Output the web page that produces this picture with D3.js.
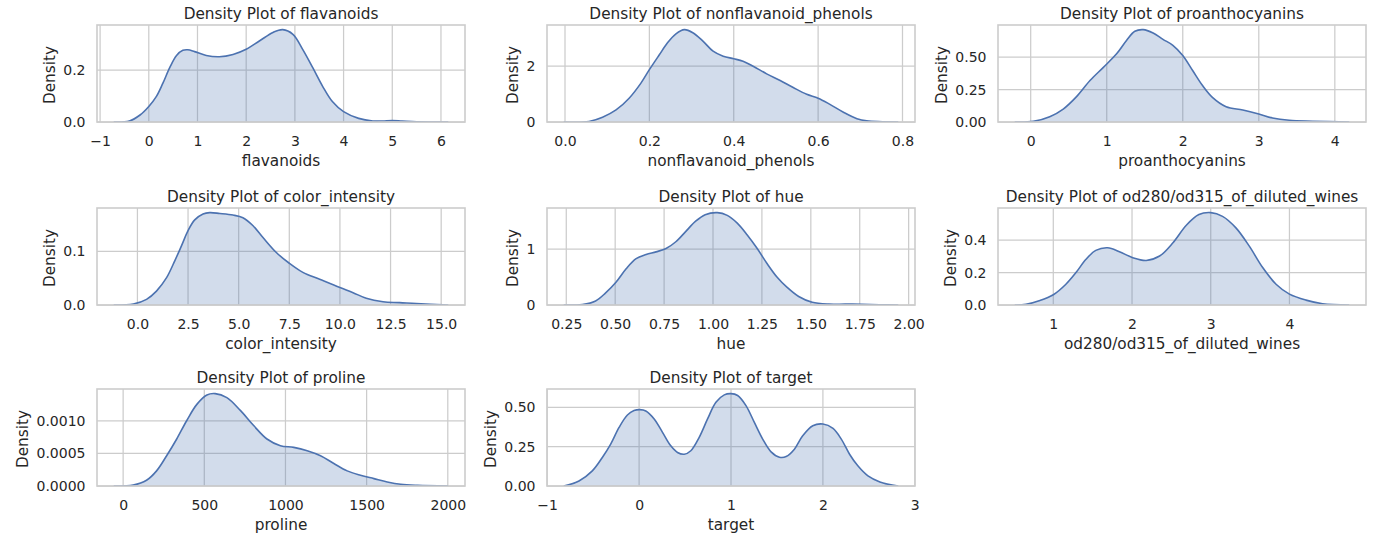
<!doctype html>
<html>
<head>
<meta charset="utf-8"/>
<title>Density plots</title>
<script src="https://d3js.org/d3.v7.min.js"></script>
<style>
body { margin: 0; background: #fff; }
text { font-family: "DejaVu Sans", sans-serif; fill: #262626; }
</style>
</head>
<body>
<script>
// density curves, [value, density]
var flavanoids = [[-0.72,0],[-0.4,0.004],[-0.18,0.027],[0,0.06],[0.16,0.10],[0.29,0.15],[0.43,0.21],
  [0.57,0.257],[0.70,0.277],[0.80,0.279],[0.94,0.272],[1.18,0.257],[1.45,0.252],[1.73,0.261],[2.0,0.281],
  [2.27,0.313],[2.55,0.346],[2.75,0.357],[2.96,0.339],[3.16,0.281],[3.37,0.209],[3.57,0.138],[3.77,0.079],
  [4.0,0.04],[4.31,0.014],[4.6,0.004],[4.8,0.004],[5.0,0.006],[5.2,0.004],[5.5,0.001],[6.15,0]];
var nonflavanoid = [[-0.003,0],[0.057,0.02],[0.089,0.17],[0.121,0.43],[0.152,0.85],[0.18,1.39],[0.2,1.87],
  [0.224,2.41],[0.243,2.83],[0.263,3.15],[0.283,3.30],[0.303,3.19],[0.327,2.89],[0.351,2.53],[0.375,2.35],
  [0.4,2.26],[0.422,2.17],[0.446,1.99],[0.478,1.72],[0.51,1.48],[0.541,1.23],[0.573,0.99],[0.6,0.85],
  [0.628,0.63],[0.66,0.35],[0.692,0.12],[0.715,0.04],[0.79,0]];
var proanthocyanins = [[-0.21,0],[0.035,0.005],[0.25,0.041],[0.428,0.10],[0.603,0.196],[0.78,0.32],
  [0.956,0.422],[1.13,0.526],[1.26,0.629],[1.37,0.70],[1.48,0.713],[1.61,0.687],[1.74,0.638],[1.87,0.592],
  [2.0,0.513],[2.13,0.397],[2.26,0.281],[2.39,0.19],[2.57,0.118],[2.79,0.093],[3.0,0.062],[3.18,0.031],
  [3.40,0.013],[3.71,0.006],[4.19,0]];
var colorIntensity = [[-1.17,0],[-0.2,0.002],[0.45,0.0106],[0.94,0.026],[1.44,0.051],[1.85,0.083],[2.18,0.111],
  [2.5,0.139],[2.83,0.159],[3.24,0.170],[3.57,0.1726],[4.07,0.171],[4.72,0.168],[5.21,0.163],[5.71,0.148],
  [6.2,0.126],[6.86,0.098],[7.5,0.078],[8.17,0.061],[9.0,0.048],[10.0,0.0325],[10.65,0.023],[11.3,0.0125],
  [12.13,0.006],[12.95,0.0044],[13.77,0.0025],[15.35,0]];
var hue = [[0.237,0],[0.332,0.01],[0.40,0.073],[0.45,0.212],[0.504,0.406],[0.556,0.648],[0.607,0.83],
  [0.658,0.903],[0.709,0.952],[0.76,1.012],[0.81,1.133],[0.86,1.315],[0.91,1.497],[0.96,1.618],[1.022,1.655],
  [1.073,1.606],[1.124,1.467],[1.175,1.255],[1.226,1.012],[1.277,0.739],[1.328,0.497],[1.379,0.315],
  [1.438,0.152],[1.507,0.048],[1.592,0.015],[1.677,0.016],[1.76,0.013],[1.85,0.005],[1.947,0]];
var od280 = [[0.51,0],[0.653,0.004],[0.82,0.026],[1.0,0.063],[1.16,0.128],[1.288,0.2],[1.415,0.282],
  [1.54,0.337],[1.69,0.353],[1.84,0.329],[2.01,0.292],[2.18,0.275],[2.35,0.302],[2.52,0.384],[2.69,0.492],
  [2.85,0.558],[3.0,0.57],[3.15,0.547],[3.32,0.476],[3.49,0.363],[3.66,0.231],[3.83,0.128],[4.0,0.067],
  [4.21,0.03],[4.42,0.008],[4.76,0]];
var proline = [[-58,0],[62,0.000015],[144,0.0000876],[206,0.000232],[268,0.000464],[330,0.000721],
  [392,0.001005],[454,0.001252],[516,0.001396],[567,0.001417],[639,0.001355],[722,0.00116],[804,0.000927],
  [886,0.000721],[969,0.000618],[1051,0.000592],[1134,0.000541],[1216,0.000464],[1298,0.000345],
  [1380,0.000232],[1462,0.000165],[1545,0.000113],[1627,0.000062],[1710,0.000026],[1813,0.00001],[2003,0]];
var target = [[-0.82,0],[-0.654,0.032],[-0.509,0.096],[-0.40,0.181],[-0.309,0.266],[-0.218,0.372],
  [-0.127,0.451],[-0.055,0.479],[0.007,0.485],[0.073,0.477],[0.164,0.426],[0.255,0.341],[0.345,0.255],
  [0.418,0.213],[0.491,0.202],[0.563,0.224],[0.654,0.309],[0.745,0.426],[0.836,0.532],[0.927,0.579],
  [1.0,0.587],[1.072,0.575],[1.163,0.511],[1.254,0.404],[1.345,0.298],[1.436,0.217],[1.527,0.183],
  [1.60,0.187],[1.69,0.234],[1.78,0.319],[1.89,0.383],[2.0,0.394],[2.11,0.366],[2.2,0.298],[2.29,0.202],
  [2.38,0.128],[2.49,0.064],[2.62,0.026],[2.82,0]];

// feature names
var names = ["flavanoids", "nonflavanoid_phenols", "proanthocyanins", "color_intensity", "hue",
  "od280/od315_of_diluted_wines", "proline", "target"];

// tick values
var xTicks = [[-1,0,1,2,3,4,5,6], [0,0.2,0.4,0.6,0.8], [0,1,2,3,4], [0,2.5,5,7.5,10,12.5,15],
  [0.25,0.5,0.75,1,1.25,1.5,1.75,2], [1,2,3,4], [0,500,1000,1500,2000], [-1,0,1,2,3]];
var yTicks = [[0,0.2], [0,2], [0,0.25,0.5], [0,0.1], [0,1], [0,0.2,0.4], [0,0.0005,0.001], [0,0.25,0.5]];
var xFormats = ["d", ".1f", "d", ".1f", ".2f", "d", "d", "d"];
var yFormats = [".1f", "d", ".2f", ".1f", "d", ".1f", ".4f", ".2f"];

var curves = [flavanoids, nonflavanoid, proanthocyanins, colorIntensity, hue, od280, proline, target];

var colLeft = [97, 547, 998];
var rowTop = [25, 208, 389];
var w = 368, h = 97;

var svg = d3.select("body").append("svg")
  .attr("width", 1374)
  .attr("height", 541);
svg.append("rect").attr("width", 1374).attr("height", 541).attr("fill", "#fff");

curves.forEach(function(pts, k) {
  var col = k % 3, row = Math.floor(k / 3);
  var ext = d3.extent(pts, function(d) { return d[0]; });
  var pad = (ext[1] - ext[0]) * 0.05;
  var x = d3.scaleLinear().domain([ext[0] - pad, ext[1] + pad]).range([0, w]);
  var y = d3.scaleLinear().domain([0, d3.max(pts, function(d) { return d[1]; }) * 1.05]).range([h, 0]);

  var g = svg.append("g").attr("transform", "translate(" + colLeft[col] + "," + rowTop[row] + ")");

  // grid
  g.selectAll(".gx").data(xTicks[k]).enter().append("line")
    .attr("x1", function(d) { return x(d); }).attr("x2", function(d) { return x(d); })
    .attr("y1", 0).attr("y2", h)
    .attr("stroke", "#cccccc").attr("stroke-width", 1.25);
  g.selectAll(".gy").data(yTicks[k]).enter().append("line")
    .attr("x1", 0).attr("x2", w)
    .attr("y1", function(d) { return y(d); }).attr("y2", function(d) { return y(d); })
    .attr("stroke", "#cccccc").attr("stroke-width", 1.25);

  // density, clipped to the frame so the smooth curve can't dip under zero
  var clipId = "clip" + k;
  g.append("clipPath").attr("id", clipId).append("rect").attr("width", w).attr("height", h);
  var curve = d3.curveCatmullRom.alpha(0.5);
  var area = d3.area().x(function(d) { return x(d[0]); }).y0(h).y1(function(d) { return y(d[1]); }).curve(curve);
  var line = d3.line().x(function(d) { return x(d[0]); }).y(function(d) { return y(d[1]); }).curve(curve);
  var dg = g.append("g").attr("clip-path", "url(#" + clipId + ")");
  dg.append("path").datum(pts).attr("d", area).attr("fill", "#4c72b0").attr("fill-opacity", 0.25);
  dg.append("path").datum(pts).attr("d", line).attr("fill", "none")
    .attr("stroke", "#4c72b0").attr("stroke-width", 1.6);

  // frame
  g.append("rect").attr("width", w).attr("height", h)
    .attr("fill", "none").attr("stroke", "#cccccc").attr("stroke-width", 1.6);

  // axes
  var ax = g.append("g").attr("transform", "translate(0," + h + ")")
    .call(d3.axisBottom(x).tickValues(xTicks[k]).tickFormat(d3.format(xFormats[k])).tickSize(0).tickPadding(13.8));
  var ay = g.append("g")
    .call(d3.axisLeft(y).tickValues(yTicks[k]).tickFormat(d3.format(yFormats[k])).tickSize(0).tickPadding(11.5));
  [ax, ay].forEach(function(a) {
    a.select(".domain").remove();
    a.selectAll("text").attr("font-size", "14px").attr("fill", "#262626")
      .attr("font-family", "DejaVu Sans");
  });

  var tw = d3.max(ay.selectAll("text").nodes(), function(n) { return n.getBBox().width; });

  g.append("text")
    .attr("x", w / 2).attr("y", -6)
    .attr("text-anchor", "middle").attr("font-size", "15.3px")
    .text("Density Plot of " + names[k]);
  g.append("text")
    .attr("x", w / 2).attr("y", h + 43.5)
    .attr("text-anchor", "middle").attr("font-size", "15.3px")
    .text(names[k]);
  g.append("text")
    .attr("transform", "translate(" + (-11.5 - tw - 13.5) + "," + (h / 2 + 1.5) + ") rotate(-90)")
    .attr("text-anchor", "middle").attr("dominant-baseline", "central").attr("font-size", "15.3px")
    .text("Density");
});
</script>
</body>
</html>
